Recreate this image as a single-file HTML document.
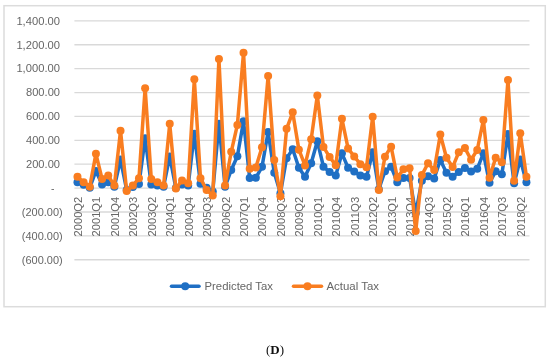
<!DOCTYPE html>
<html><head><meta charset="utf-8"><title>Chart D</title>
<style>
html,body{margin:0;padding:0;background:#fff;}
body{width:550px;height:360px;overflow:hidden;position:relative;font-family:"Liberation Sans",sans-serif;}
svg{position:absolute;left:0;top:0;display:block;}
.ax{font-family:"Liberation Sans",sans-serif;font-size:10.5px;fill:#666666;}
.cap{font-family:"Liberation Serif",serif;font-size:13px;fill:#111;}
</style></head><body>
<svg width="550" height="360" viewBox="0 0 550 360">
<rect x="0" y="0" width="550" height="360" fill="#fff"/>
<rect x="4.0" y="5.7" width="541.3" height="301.0" fill="#fff" stroke="#DCDCDC" stroke-width="1.5"/>

<line x1="74.4" y1="20.87" x2="529.5" y2="20.87" stroke="#D9D9D9" stroke-width="1.3"/>
<line x1="74.4" y1="44.76" x2="529.5" y2="44.76" stroke="#D9D9D9" stroke-width="1.3"/>
<line x1="74.4" y1="68.65" x2="529.5" y2="68.65" stroke="#D9D9D9" stroke-width="1.3"/>
<line x1="74.4" y1="92.54" x2="529.5" y2="92.54" stroke="#D9D9D9" stroke-width="1.3"/>
<line x1="74.4" y1="116.43" x2="529.5" y2="116.43" stroke="#D9D9D9" stroke-width="1.3"/>
<line x1="74.4" y1="140.32" x2="529.5" y2="140.32" stroke="#D9D9D9" stroke-width="1.3"/>
<line x1="74.4" y1="164.21" x2="529.5" y2="164.21" stroke="#D9D9D9" stroke-width="1.3"/>
<line x1="74.4" y1="188.10" x2="529.5" y2="188.10" stroke="#D9D9D9" stroke-width="1.3"/>
<line x1="74.4" y1="211.99" x2="529.5" y2="211.99" stroke="#D9D9D9" stroke-width="1.3"/>
<line x1="74.4" y1="235.88" x2="529.5" y2="235.88" stroke="#D9D9D9" stroke-width="1.3"/>
<line x1="74.4" y1="259.77" x2="529.5" y2="259.77" stroke="#D9D9D9" stroke-width="1.3"/>
<text class="ax" x="60" y="24.67" text-anchor="end" textLength="43.6" lengthAdjust="spacingAndGlyphs">1,400.00</text>
<text class="ax" x="60" y="48.56" text-anchor="end" textLength="43.6" lengthAdjust="spacingAndGlyphs">1,200.00</text>
<text class="ax" x="60" y="72.45" text-anchor="end" textLength="43.6" lengthAdjust="spacingAndGlyphs">1,000.00</text>
<text class="ax" x="60" y="96.34" text-anchor="end" textLength="34.0" lengthAdjust="spacingAndGlyphs">800.00</text>
<text class="ax" x="60" y="120.23" text-anchor="end" textLength="34.0" lengthAdjust="spacingAndGlyphs">600.00</text>
<text class="ax" x="60" y="144.12" text-anchor="end" textLength="34.0" lengthAdjust="spacingAndGlyphs">400.00</text>
<text class="ax" x="60" y="168.01" text-anchor="end" textLength="34.0" lengthAdjust="spacingAndGlyphs">200.00</text>
<text class="ax" x="54.4" y="191.90" text-anchor="end">-</text>
<text class="ax" x="62.7" y="215.79" text-anchor="end" textLength="40.9" lengthAdjust="spacingAndGlyphs">(200.00)</text>
<text class="ax" x="62.7" y="239.68" text-anchor="end" textLength="40.9" lengthAdjust="spacingAndGlyphs">(400.00)</text>
<text class="ax" x="62.7" y="263.57" text-anchor="end" textLength="40.9" lengthAdjust="spacingAndGlyphs">(600.00)</text>
<text class="ax" transform="translate(81.98,196.8) rotate(-90)" text-anchor="end" textLength="39.6" lengthAdjust="spacingAndGlyphs">2000Q2</text>
<text class="ax" transform="translate(100.43,196.8) rotate(-90)" text-anchor="end" textLength="39.6" lengthAdjust="spacingAndGlyphs">2001Q1</text>
<text class="ax" transform="translate(118.88,196.8) rotate(-90)" text-anchor="end" textLength="39.6" lengthAdjust="spacingAndGlyphs">2001Q4</text>
<text class="ax" transform="translate(137.33,196.8) rotate(-90)" text-anchor="end" textLength="39.6" lengthAdjust="spacingAndGlyphs">2002Q3</text>
<text class="ax" transform="translate(155.78,196.8) rotate(-90)" text-anchor="end" textLength="39.6" lengthAdjust="spacingAndGlyphs">2003Q2</text>
<text class="ax" transform="translate(174.23,196.8) rotate(-90)" text-anchor="end" textLength="39.6" lengthAdjust="spacingAndGlyphs">2004Q1</text>
<text class="ax" transform="translate(192.68,196.8) rotate(-90)" text-anchor="end" textLength="39.6" lengthAdjust="spacingAndGlyphs">2004Q4</text>
<text class="ax" transform="translate(211.12,196.8) rotate(-90)" text-anchor="end" textLength="39.6" lengthAdjust="spacingAndGlyphs">2005Q3</text>
<text class="ax" transform="translate(229.58,196.8) rotate(-90)" text-anchor="end" textLength="39.6" lengthAdjust="spacingAndGlyphs">2006Q2</text>
<text class="ax" transform="translate(248.03,196.8) rotate(-90)" text-anchor="end" textLength="39.6" lengthAdjust="spacingAndGlyphs">2007Q1</text>
<text class="ax" transform="translate(266.48,196.8) rotate(-90)" text-anchor="end" textLength="39.6" lengthAdjust="spacingAndGlyphs">2007Q4</text>
<text class="ax" transform="translate(284.93,196.8) rotate(-90)" text-anchor="end" textLength="39.6" lengthAdjust="spacingAndGlyphs">2008Q3</text>
<text class="ax" transform="translate(303.38,196.8) rotate(-90)" text-anchor="end" textLength="39.6" lengthAdjust="spacingAndGlyphs">2009Q2</text>
<text class="ax" transform="translate(321.83,196.8) rotate(-90)" text-anchor="end" textLength="39.6" lengthAdjust="spacingAndGlyphs">2010Q1</text>
<text class="ax" transform="translate(340.27,196.8) rotate(-90)" text-anchor="end" textLength="39.6" lengthAdjust="spacingAndGlyphs">2010Q4</text>
<text class="ax" transform="translate(358.73,196.8) rotate(-90)" text-anchor="end" textLength="39.6" lengthAdjust="spacingAndGlyphs">2011Q3</text>
<text class="ax" transform="translate(377.18,196.8) rotate(-90)" text-anchor="end" textLength="39.6" lengthAdjust="spacingAndGlyphs">2012Q2</text>
<text class="ax" transform="translate(395.62,196.8) rotate(-90)" text-anchor="end" textLength="39.6" lengthAdjust="spacingAndGlyphs">2013Q1</text>
<text class="ax" transform="translate(414.08,196.8) rotate(-90)" text-anchor="end" textLength="39.6" lengthAdjust="spacingAndGlyphs">2013Q4</text>
<text class="ax" transform="translate(432.52,196.8) rotate(-90)" text-anchor="end" textLength="39.6" lengthAdjust="spacingAndGlyphs">2014Q3</text>
<text class="ax" transform="translate(450.98,196.8) rotate(-90)" text-anchor="end" textLength="39.6" lengthAdjust="spacingAndGlyphs">2015Q2</text>
<text class="ax" transform="translate(469.43,196.8) rotate(-90)" text-anchor="end" textLength="39.6" lengthAdjust="spacingAndGlyphs">2016Q1</text>
<text class="ax" transform="translate(487.88,196.8) rotate(-90)" text-anchor="end" textLength="39.6" lengthAdjust="spacingAndGlyphs">2016Q4</text>
<text class="ax" transform="translate(506.33,196.8) rotate(-90)" text-anchor="end" textLength="39.6" lengthAdjust="spacingAndGlyphs">2017Q3</text>
<text class="ax" transform="translate(524.77,196.8) rotate(-90)" text-anchor="end" textLength="39.6" lengthAdjust="spacingAndGlyphs">2018Q2</text>
<polyline points="77.48,182.25 83.62,184.87 89.78,187.74 95.93,171.02 102.08,184.40 108.23,182.25 114.38,186.67 120.53,159.55 126.68,189.89 132.83,186.91 138.98,184.04 145.12,138.17 151.28,184.40 157.43,185.59 163.58,186.67 169.73,156.45 175.88,188.10 182.03,184.40 188.18,185.59 194.33,133.63 200.48,183.80 206.62,187.74 212.78,191.56 218.93,123.84 225.08,186.67 231.23,170.06 237.38,156.21 243.53,121.21 249.68,178.07 255.83,177.83 261.98,166.84 268.12,131.96 274.27,172.81 280.43,193.36 286.58,158.24 292.73,149.28 298.88,167.79 305.02,176.75 311.18,163.25 317.33,141.16 323.48,166.72 329.62,171.97 335.77,175.56 341.93,153.34 348.08,167.79 354.23,171.62 360.38,175.56 366.52,176.75 372.68,152.26 378.83,189.29 384.98,171.14 391.12,166.72 397.27,182.25 403.43,177.95 409.58,177.95 415.73,213.18 421.88,180.69 428.02,176.16 434.18,178.54 440.33,160.03 446.48,172.81 452.62,176.75 458.77,171.97 464.93,168.03 471.08,171.50 477.23,168.87 483.38,153.34 489.52,182.84 495.68,171.14 501.83,174.36 507.98,134.11 514.12,183.32 520.27,159.43 526.43,182.25" fill="none" stroke="#1F6FC4" stroke-width="3.5" stroke-linejoin="round" stroke-linecap="round"/>
<circle cx="77.48" cy="182.25" r="4.0" fill="#1F6FC4"/>
<circle cx="83.62" cy="184.87" r="4.0" fill="#1F6FC4"/>
<circle cx="89.78" cy="187.74" r="4.0" fill="#1F6FC4"/>
<circle cx="95.93" cy="171.02" r="4.0" fill="#1F6FC4"/>
<circle cx="102.08" cy="184.40" r="4.0" fill="#1F6FC4"/>
<circle cx="108.23" cy="182.25" r="4.0" fill="#1F6FC4"/>
<circle cx="114.38" cy="186.67" r="4.0" fill="#1F6FC4"/>
<circle cx="120.53" cy="159.55" r="4.0" fill="#1F6FC4"/>
<circle cx="126.68" cy="189.89" r="4.0" fill="#1F6FC4"/>
<circle cx="132.83" cy="186.91" r="4.0" fill="#1F6FC4"/>
<circle cx="138.98" cy="184.04" r="4.0" fill="#1F6FC4"/>
<circle cx="145.12" cy="138.17" r="4.0" fill="#1F6FC4"/>
<circle cx="151.28" cy="184.40" r="4.0" fill="#1F6FC4"/>
<circle cx="157.43" cy="185.59" r="4.0" fill="#1F6FC4"/>
<circle cx="163.58" cy="186.67" r="4.0" fill="#1F6FC4"/>
<circle cx="169.73" cy="156.45" r="4.0" fill="#1F6FC4"/>
<circle cx="175.88" cy="188.10" r="4.0" fill="#1F6FC4"/>
<circle cx="182.03" cy="184.40" r="4.0" fill="#1F6FC4"/>
<circle cx="188.18" cy="185.59" r="4.0" fill="#1F6FC4"/>
<circle cx="194.33" cy="133.63" r="4.0" fill="#1F6FC4"/>
<circle cx="200.48" cy="183.80" r="4.0" fill="#1F6FC4"/>
<circle cx="206.62" cy="187.74" r="4.0" fill="#1F6FC4"/>
<circle cx="212.78" cy="191.56" r="4.0" fill="#1F6FC4"/>
<circle cx="218.93" cy="123.84" r="4.0" fill="#1F6FC4"/>
<circle cx="225.08" cy="186.67" r="4.0" fill="#1F6FC4"/>
<circle cx="231.23" cy="170.06" r="4.0" fill="#1F6FC4"/>
<circle cx="237.38" cy="156.21" r="4.0" fill="#1F6FC4"/>
<circle cx="243.53" cy="121.21" r="4.0" fill="#1F6FC4"/>
<circle cx="249.68" cy="178.07" r="4.0" fill="#1F6FC4"/>
<circle cx="255.83" cy="177.83" r="4.0" fill="#1F6FC4"/>
<circle cx="261.98" cy="166.84" r="4.0" fill="#1F6FC4"/>
<circle cx="268.12" cy="131.96" r="4.0" fill="#1F6FC4"/>
<circle cx="274.27" cy="172.81" r="4.0" fill="#1F6FC4"/>
<circle cx="280.43" cy="193.36" r="4.0" fill="#1F6FC4"/>
<circle cx="286.58" cy="158.24" r="4.0" fill="#1F6FC4"/>
<circle cx="292.73" cy="149.28" r="4.0" fill="#1F6FC4"/>
<circle cx="298.88" cy="167.79" r="4.0" fill="#1F6FC4"/>
<circle cx="305.02" cy="176.75" r="4.0" fill="#1F6FC4"/>
<circle cx="311.18" cy="163.25" r="4.0" fill="#1F6FC4"/>
<circle cx="317.33" cy="141.16" r="4.0" fill="#1F6FC4"/>
<circle cx="323.48" cy="166.72" r="4.0" fill="#1F6FC4"/>
<circle cx="329.62" cy="171.97" r="4.0" fill="#1F6FC4"/>
<circle cx="335.77" cy="175.56" r="4.0" fill="#1F6FC4"/>
<circle cx="341.93" cy="153.34" r="4.0" fill="#1F6FC4"/>
<circle cx="348.08" cy="167.79" r="4.0" fill="#1F6FC4"/>
<circle cx="354.23" cy="171.62" r="4.0" fill="#1F6FC4"/>
<circle cx="360.38" cy="175.56" r="4.0" fill="#1F6FC4"/>
<circle cx="366.52" cy="176.75" r="4.0" fill="#1F6FC4"/>
<circle cx="372.68" cy="152.26" r="4.0" fill="#1F6FC4"/>
<circle cx="378.83" cy="189.29" r="4.0" fill="#1F6FC4"/>
<circle cx="384.98" cy="171.14" r="4.0" fill="#1F6FC4"/>
<circle cx="391.12" cy="166.72" r="4.0" fill="#1F6FC4"/>
<circle cx="397.27" cy="182.25" r="4.0" fill="#1F6FC4"/>
<circle cx="403.43" cy="177.95" r="4.0" fill="#1F6FC4"/>
<circle cx="409.58" cy="177.95" r="4.0" fill="#1F6FC4"/>
<circle cx="415.73" cy="213.18" r="4.0" fill="#1F6FC4"/>
<circle cx="421.88" cy="180.69" r="4.0" fill="#1F6FC4"/>
<circle cx="428.02" cy="176.16" r="4.0" fill="#1F6FC4"/>
<circle cx="434.18" cy="178.54" r="4.0" fill="#1F6FC4"/>
<circle cx="440.33" cy="160.03" r="4.0" fill="#1F6FC4"/>
<circle cx="446.48" cy="172.81" r="4.0" fill="#1F6FC4"/>
<circle cx="452.62" cy="176.75" r="4.0" fill="#1F6FC4"/>
<circle cx="458.77" cy="171.97" r="4.0" fill="#1F6FC4"/>
<circle cx="464.93" cy="168.03" r="4.0" fill="#1F6FC4"/>
<circle cx="471.08" cy="171.50" r="4.0" fill="#1F6FC4"/>
<circle cx="477.23" cy="168.87" r="4.0" fill="#1F6FC4"/>
<circle cx="483.38" cy="153.34" r="4.0" fill="#1F6FC4"/>
<circle cx="489.52" cy="182.84" r="4.0" fill="#1F6FC4"/>
<circle cx="495.68" cy="171.14" r="4.0" fill="#1F6FC4"/>
<circle cx="501.83" cy="174.36" r="4.0" fill="#1F6FC4"/>
<circle cx="507.98" cy="134.11" r="4.0" fill="#1F6FC4"/>
<circle cx="514.12" cy="183.32" r="4.0" fill="#1F6FC4"/>
<circle cx="520.27" cy="159.43" r="4.0" fill="#1F6FC4"/>
<circle cx="526.43" cy="182.25" r="4.0" fill="#1F6FC4"/>
<polyline points="77.48,176.75 83.62,182.25 89.78,186.67 95.93,153.82 102.08,178.90 108.23,175.56 114.38,185.59 120.53,130.64 126.68,191.09 132.83,185.59 138.98,178.19 145.12,88.24 151.28,178.90 157.43,182.25 163.58,185.59 169.73,123.84 175.88,188.46 182.03,180.46 188.18,183.32 194.33,79.28 200.48,178.19 206.62,190.01 212.78,195.51 218.93,58.97 225.08,185.59 231.23,151.79 237.38,124.91 243.53,52.64 249.68,168.87 255.83,167.55 261.98,147.13 268.12,76.06 274.27,159.91 280.43,196.22 286.58,128.85 292.73,112.37 298.88,149.64 305.02,165.40 311.18,139.36 317.33,95.53 323.48,146.89 329.62,157.04 335.77,165.17 341.93,118.82 348.08,148.44 354.23,156.45 360.38,164.21 366.52,167.20 372.68,116.67 378.83,190.01 384.98,156.68 391.12,146.65 397.27,177.59 403.43,169.35 409.58,168.15 415.73,231.10 421.88,175.08 428.02,163.25 434.18,170.06 440.33,134.47 446.48,157.76 452.62,167.08 458.77,152.26 464.93,148.08 471.08,159.79 477.23,150.00 483.38,120.01 489.52,177.83 495.68,157.76 501.83,162.18 507.98,80.00 514.12,180.69 520.27,133.27 526.43,176.75" fill="none" stroke="#F97D20" stroke-width="3.5" stroke-linejoin="round" stroke-linecap="round"/>
<circle cx="77.48" cy="176.75" r="4.0" fill="#F97D20"/>
<circle cx="83.62" cy="182.25" r="4.0" fill="#F97D20"/>
<circle cx="89.78" cy="186.67" r="4.0" fill="#F97D20"/>
<circle cx="95.93" cy="153.82" r="4.0" fill="#F97D20"/>
<circle cx="102.08" cy="178.90" r="4.0" fill="#F97D20"/>
<circle cx="108.23" cy="175.56" r="4.0" fill="#F97D20"/>
<circle cx="114.38" cy="185.59" r="4.0" fill="#F97D20"/>
<circle cx="120.53" cy="130.64" r="4.0" fill="#F97D20"/>
<circle cx="126.68" cy="191.09" r="4.0" fill="#F97D20"/>
<circle cx="132.83" cy="185.59" r="4.0" fill="#F97D20"/>
<circle cx="138.98" cy="178.19" r="4.0" fill="#F97D20"/>
<circle cx="145.12" cy="88.24" r="4.0" fill="#F97D20"/>
<circle cx="151.28" cy="178.90" r="4.0" fill="#F97D20"/>
<circle cx="157.43" cy="182.25" r="4.0" fill="#F97D20"/>
<circle cx="163.58" cy="185.59" r="4.0" fill="#F97D20"/>
<circle cx="169.73" cy="123.84" r="4.0" fill="#F97D20"/>
<circle cx="175.88" cy="188.46" r="4.0" fill="#F97D20"/>
<circle cx="182.03" cy="180.46" r="4.0" fill="#F97D20"/>
<circle cx="188.18" cy="183.32" r="4.0" fill="#F97D20"/>
<circle cx="194.33" cy="79.28" r="4.0" fill="#F97D20"/>
<circle cx="200.48" cy="178.19" r="4.0" fill="#F97D20"/>
<circle cx="206.62" cy="190.01" r="4.0" fill="#F97D20"/>
<circle cx="212.78" cy="195.51" r="4.0" fill="#F97D20"/>
<circle cx="218.93" cy="58.97" r="4.0" fill="#F97D20"/>
<circle cx="225.08" cy="185.59" r="4.0" fill="#F97D20"/>
<circle cx="231.23" cy="151.79" r="4.0" fill="#F97D20"/>
<circle cx="237.38" cy="124.91" r="4.0" fill="#F97D20"/>
<circle cx="243.53" cy="52.64" r="4.0" fill="#F97D20"/>
<circle cx="249.68" cy="168.87" r="4.0" fill="#F97D20"/>
<circle cx="255.83" cy="167.55" r="4.0" fill="#F97D20"/>
<circle cx="261.98" cy="147.13" r="4.0" fill="#F97D20"/>
<circle cx="268.12" cy="76.06" r="4.0" fill="#F97D20"/>
<circle cx="274.27" cy="159.91" r="4.0" fill="#F97D20"/>
<circle cx="280.43" cy="196.22" r="4.0" fill="#F97D20"/>
<circle cx="286.58" cy="128.85" r="4.0" fill="#F97D20"/>
<circle cx="292.73" cy="112.37" r="4.0" fill="#F97D20"/>
<circle cx="298.88" cy="149.64" r="4.0" fill="#F97D20"/>
<circle cx="305.02" cy="165.40" r="4.0" fill="#F97D20"/>
<circle cx="311.18" cy="139.36" r="4.0" fill="#F97D20"/>
<circle cx="317.33" cy="95.53" r="4.0" fill="#F97D20"/>
<circle cx="323.48" cy="146.89" r="4.0" fill="#F97D20"/>
<circle cx="329.62" cy="157.04" r="4.0" fill="#F97D20"/>
<circle cx="335.77" cy="165.17" r="4.0" fill="#F97D20"/>
<circle cx="341.93" cy="118.82" r="4.0" fill="#F97D20"/>
<circle cx="348.08" cy="148.44" r="4.0" fill="#F97D20"/>
<circle cx="354.23" cy="156.45" r="4.0" fill="#F97D20"/>
<circle cx="360.38" cy="164.21" r="4.0" fill="#F97D20"/>
<circle cx="366.52" cy="167.20" r="4.0" fill="#F97D20"/>
<circle cx="372.68" cy="116.67" r="4.0" fill="#F97D20"/>
<circle cx="378.83" cy="190.01" r="4.0" fill="#F97D20"/>
<circle cx="384.98" cy="156.68" r="4.0" fill="#F97D20"/>
<circle cx="391.12" cy="146.65" r="4.0" fill="#F97D20"/>
<circle cx="397.27" cy="177.59" r="4.0" fill="#F97D20"/>
<circle cx="403.43" cy="169.35" r="4.0" fill="#F97D20"/>
<circle cx="409.58" cy="168.15" r="4.0" fill="#F97D20"/>
<circle cx="415.73" cy="231.10" r="4.0" fill="#F97D20"/>
<circle cx="421.88" cy="175.08" r="4.0" fill="#F97D20"/>
<circle cx="428.02" cy="163.25" r="4.0" fill="#F97D20"/>
<circle cx="434.18" cy="170.06" r="4.0" fill="#F97D20"/>
<circle cx="440.33" cy="134.47" r="4.0" fill="#F97D20"/>
<circle cx="446.48" cy="157.76" r="4.0" fill="#F97D20"/>
<circle cx="452.62" cy="167.08" r="4.0" fill="#F97D20"/>
<circle cx="458.77" cy="152.26" r="4.0" fill="#F97D20"/>
<circle cx="464.93" cy="148.08" r="4.0" fill="#F97D20"/>
<circle cx="471.08" cy="159.79" r="4.0" fill="#F97D20"/>
<circle cx="477.23" cy="150.00" r="4.0" fill="#F97D20"/>
<circle cx="483.38" cy="120.01" r="4.0" fill="#F97D20"/>
<circle cx="489.52" cy="177.83" r="4.0" fill="#F97D20"/>
<circle cx="495.68" cy="157.76" r="4.0" fill="#F97D20"/>
<circle cx="501.83" cy="162.18" r="4.0" fill="#F97D20"/>
<circle cx="507.98" cy="80.00" r="4.0" fill="#F97D20"/>
<circle cx="514.12" cy="180.69" r="4.0" fill="#F97D20"/>
<circle cx="520.27" cy="133.27" r="4.0" fill="#F97D20"/>
<circle cx="526.43" cy="176.75" r="4.0" fill="#F97D20"/>
<line x1="171.5" y1="286.2" x2="199" y2="286.2" stroke="#1F6FC4" stroke-width="3.5" stroke-linecap="round"/>
<circle cx="185.2" cy="286.2" r="4.0" fill="#1F6FC4"/>
<text class="ax" x="204.5" y="290.0" textLength="68.5" lengthAdjust="spacingAndGlyphs">Predicted Tax</text>
<line x1="293.5" y1="286.2" x2="321.5" y2="286.2" stroke="#F97D20" stroke-width="3.5" stroke-linecap="round"/>
<circle cx="307.5" cy="286.2" r="4.0" fill="#F97D20"/>
<text class="ax" x="326.5" y="290.0" textLength="52.5" lengthAdjust="spacingAndGlyphs">Actual Tax</text>
<text class="cap" x="275" y="354.1" text-anchor="middle">(<tspan font-weight="bold">D</tspan>)</text>
</svg></body></html>
